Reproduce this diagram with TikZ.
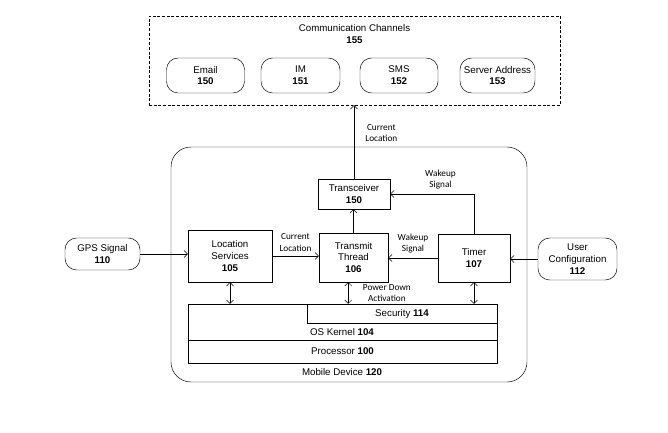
\documentclass[tikz,border=0pt]{standalone}
\usepackage{fontspec}
\setmainfont{Liberation Sans}
\newfontfamily\edgefont{Carlito}
\usepackage{tikz}
\usetikzlibrary{arrows.meta}

\begin{document}
\begin{tikzpicture}[x=0.03cm,y=-0.03cm,>={Straight Barb[length=3pt,width=6pt]},
  blk/.style={draw,thin,align=center,inner sep=1pt,font=\fontsize{8.3}{10}\selectfont},
  pill/.style={blk,rounded corners=0.35cm},
  txt/.style={align=center,inner sep=1pt,font=\fontsize{8.3}{10}\selectfont},
  lbl/.style={align=center,inner sep=1pt,font=\edgefont\fontsize{7.9}{9.7}\selectfont}]
  \useasboundingbox (0,0) rectangle (668,433);

  % communication channels
  \node[draw,thin,dash pattern=on 2.5pt off 1.5pt,minimum width=12.33cm,minimum height=2.67cm] (chan) at (354.5,60.5) {};
  \node[txt] (chantitle) at (354.5,34) {Communication Channels\\\textbf{155}};
  \node[pill,minimum width=2.34cm,minimum height=1.05cm] (email) at (205.5,75.5) {Email\\\textbf{150}};
  \node[pill,minimum width=2.37cm,minimum height=1.05cm] (im) at (300.5,75.5) {IM\\\textbf{151}};
  \node[pill,minimum width=2.34cm,minimum height=1.05cm] (sms) at (399,75.5) {SMS\\\textbf{152}};
  \node[pill,minimum width=2.25cm,minimum height=1.05cm] (server) at (497.5,75.5) {Server Address\\\textbf{153}};

  % mobile device
  \node[draw,thin,rounded corners=0.6cm,minimum width=10.68cm,minimum height=7.05cm] (device) at (349,264.5) {};
  \node[txt] (devicetxt) at (342,372) {Mobile Device \textbf{120}};
  \node[blk,minimum width=2.16cm,minimum height=0.9cm] (trans) at (354,194) {Transceiver\\\textbf{150}};
  \node[blk,minimum width=2.52cm,minimum height=1.56cm] (locsvc) at (230,256) {Location\\Services\\\textbf{105}};
  \node[blk,minimum width=2.07cm,minimum height=1.47cm] (thread) at (353.5,257.5) {Transmit\\Thread\\\textbf{106}};
  \node[blk,minimum width=2.16cm,minimum height=1.44cm] (timer) at (474,258) {Timer\\\textbf{107}};
  \node[blk,minimum width=9.27cm,minimum height=1.08cm] (kernel) at (342.5,322) {};
  \node[blk,minimum width=5.7cm,minimum height=0.57cm] (security) at (402,313.5) {Security \textbf{114}};
  \node[txt] (kerneltxt) at (342,332) {OS Kernel \textbf{104}};
  \node[blk,minimum width=9.27cm,minimum height=0.69cm] (proc) at (342.5,351.5) {Processor \textbf{100}};

  % inputs
  \node[pill,minimum width=2.25cm,minimum height=0.96cm] (gps) at (102.5,254) {GPS Signal\\\textbf{110}};
  \node[pill,minimum width=2.37cm,minimum height=1.26cm] (usercfg) at (577.5,259) {User\\Configuration\\\textbf{112}};

  \draw[thin,->] (gps.east) -- (gps.east -| locsvc.west);
  \draw[thin,->] (usercfg.west) -- (usercfg.west -| timer.east);
  \draw[thin,->] (locsvc.east) -- node[lbl,above=3pt]{Current\\Location} (locsvc.east -| thread.west);
  \draw[thin,->] (timer.west) -- node[lbl,above=3pt]{Wakeup\\Signal} (timer.west -| thread.east);
  \draw[thin,->] (thread.north) -- (thread.north |- trans.south);
  \draw[thin,->] (timer.north) |- node[lbl,pos=0.7,above=3pt]{Wakeup\\Signal} (trans.east);
  \draw[thin,->] (trans.north) -- node[lbl,pos=0.62,right=0.3cm]{Current\\Location} (trans.north |- chan.south);

  \draw[thin,<->] (locsvc.south) -- (locsvc.south |- kernel.north);
  \draw[thin,<->] ([xshift=-0.16cm]thread.south) -- node[lbl,right=0.4cm]{Power Down\\Activation} ([xshift=-0.16cm]thread.south |- kernel.north);
  \draw[thin,<->] (timer.south) -- (timer.south |- kernel.north);
\end{tikzpicture}
\end{document}
